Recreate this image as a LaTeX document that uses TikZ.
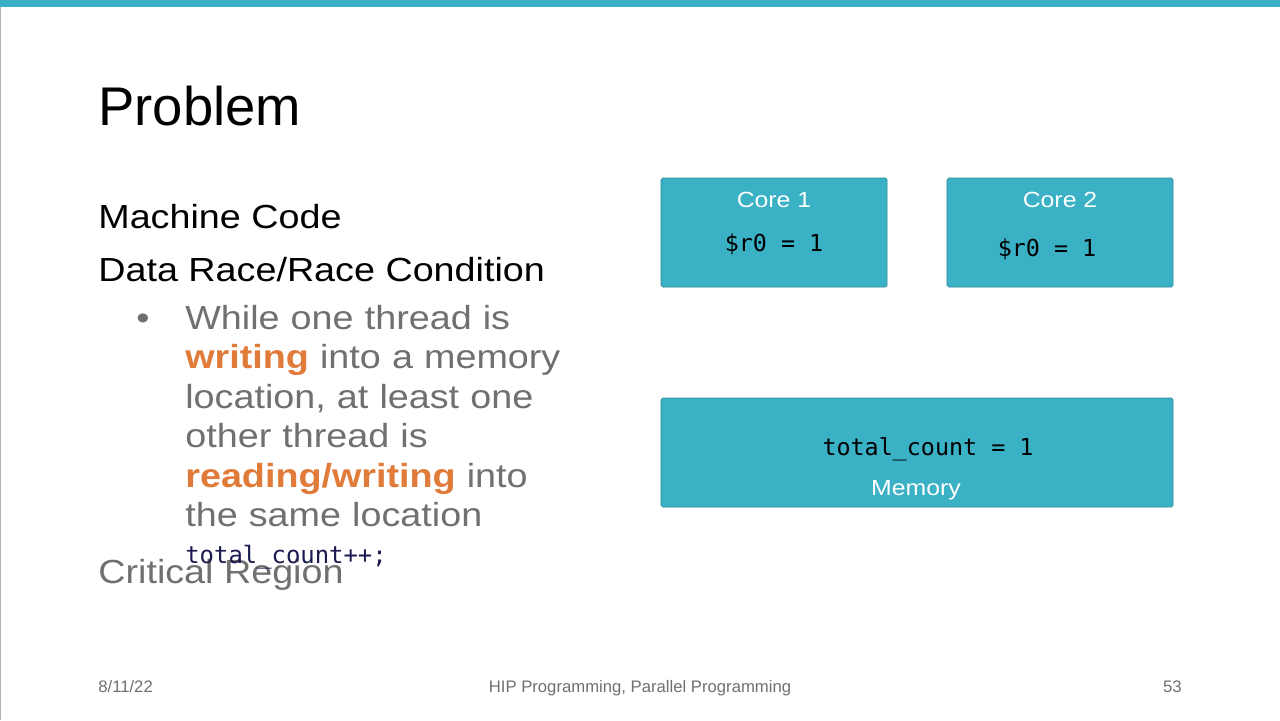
\documentclass[tikz,border=0pt]{standalone}
\usepackage{fontspec}
\setmainfont{Liberation Sans}
\newfontfamily\widesans[FakeStretch=1.13]{Liberation Sans}
\setmonofont{DejaVu Sans Mono}
\definecolor{teal}{HTML}{3BB1C6}
\definecolor{tealdark}{HTML}{2B8898}
\definecolor{hot}{HTML}{E07B39}
\definecolor{greytext}{HTML}{707070}
\definecolor{navy}{HTML}{1A1A50}
\begin{document}
\begin{tikzpicture}[x=0.02cm, y=-0.02cm,
  unit/.style={draw=tealdark, fill=teal, rounded corners=1pt},
  txt/.style={anchor=base west, inner sep=0pt},
  body/.style={txt, font=\widesans\fontsize{19}{23}\selectfont},
  boxlabel/.style={anchor=base, inner sep=0pt, text=white, font=\widesans\fontsize{12.5}{14}\selectfont},
  reg/.style={anchor=base, inner sep=0pt, font=\ttfamily\fontsize{13.3}{15}\selectfont},
  foot/.style={anchor=base, inner sep=0pt, text=greytext, font=\fontsize{9.5}{11}\selectfont}]
\useasboundingbox (0,0) rectangle (1280,720);
\fill[white] (0,0) rectangle (1280,720);
\fill[teal] (0,0) rectangle (1280,7);
\draw[gray!60, line width=0.6pt] (0.5,7) -- (0.5,720);

% title and text
\node[txt, font=\fontsize{31}{36}\selectfont] (title) at (98,125) {Problem};
\node[body] (mcode) at (98,228) {Machine Code};
\node[body] (race) at (98,281) {Data Race/Race Condition};
\node[body, text=greytext] (bullet) at (136,329) {\textbullet};
\node[body, text=greytext, align=left, text width=12cm]
  (defn) at (185,329) {While one thread is\\[-0.5pt]
  {\color{hot}\bfseries writing} into a memory\\[-0.5pt]
  location, at least one\\[-0.5pt]
  other thread is\\[-0.5pt]
  {\color{hot}\bfseries reading/writing} into\\[-0.5pt]
  the same location};
\node[body, text=greytext] (crit) at (98,583) {Critical Region};
\node[txt, text=navy, font=\ttfamily\fontsize{13.6}{15}\selectfont] (incr) at (185,563) {total\_count++;};

% cores and memory
\node[unit, minimum width=226*0.02cm, minimum height=109*0.02cm] (core1) at (774,232.5) {};
\node[unit, minimum width=226*0.02cm, minimum height=109*0.02cm] (core2) at (1060,232.5) {};
\node[unit, minimum width=512*0.02cm, minimum height=109*0.02cm] (mem) at (917,452.5) {};
\node[boxlabel] (c1name) at (774,207) {Core 1};
\node[boxlabel] (c2name) at (1060,207) {Core 2};
\node[reg] (c1reg) at (774,251) {\$r0 = 1};
\node[reg] (c2reg) at (1047,256) {\$r0 = 1};
\node[reg] (memval) at (928,455) {total\_count = 1};
\node[boxlabel] (memname) at (916,495) {Memory};

% footer
\node[foot, anchor=base west] (date) at (98,692) {8/11/22};
\node[foot] (course) at (640,692) {HIP Programming, Parallel Programming};
\node[foot, anchor=base east] (page) at (1182,692) {53};
\end{tikzpicture}
\end{document}
